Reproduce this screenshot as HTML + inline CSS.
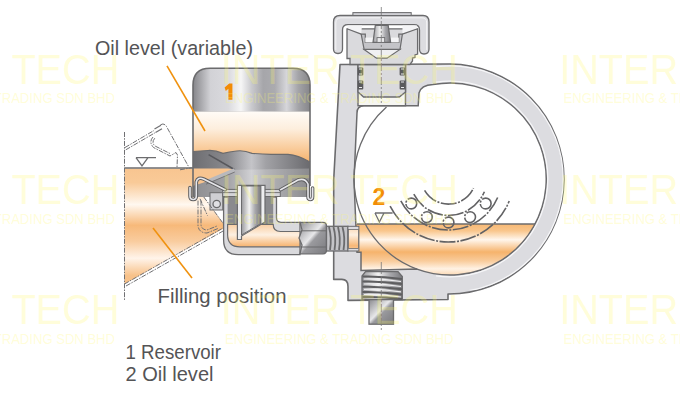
<!DOCTYPE html>
<html><head><meta charset="utf-8">
<style>
html,body{margin:0;padding:0;background:#fff;}
body{width:680px;height:400px;overflow:hidden;position:relative;}
svg{position:absolute;left:0;top:0;}
.lbl{font-family:"Liberation Sans",sans-serif;fill:#545456;font-size:19.3px;}
.num{font-family:"Liberation Sans",sans-serif;fill:#f28c06;font-size:22px;font-weight:bold;}
</style></head>
<body>
<svg width="680" height="400" viewBox="0 0 680 400">
<defs>
  <linearGradient id="oilL" x1="0" y1="168" x2="0" y2="290" gradientUnits="userSpaceOnUse">
    <stop offset="0" stop-color="#f8c590"/>
    <stop offset="0.12" stop-color="#f9ca98"/>
    <stop offset="0.3" stop-color="#fff8f0"/>
    <stop offset="0.47" stop-color="#f7b97a"/>
    <stop offset="0.6" stop-color="#f9cc9e"/>
    <stop offset="0.74" stop-color="#fff4ea"/>
    <stop offset="0.88" stop-color="#f8c28a"/>
    <stop offset="1" stop-color="#f7bd82"/>
  </linearGradient>
  <linearGradient id="oilR" x1="0" y1="224" x2="0" y2="280" gradientUnits="userSpaceOnUse">
    <stop offset="0" stop-color="#f7b874"/>
    <stop offset="0.12" stop-color="#f9c68c"/>
    <stop offset="0.28" stop-color="#fff6ec"/>
    <stop offset="0.5" stop-color="#f6b36c"/>
    <stop offset="0.66" stop-color="#f9cc9c"/>
    <stop offset="0.8" stop-color="#fff2e4"/>
    <stop offset="1" stop-color="#f8c690"/>
  </linearGradient>
  <linearGradient id="oilT" x1="0" y1="224" x2="0" y2="255" gradientUnits="userSpaceOnUse">
    <stop offset="0" stop-color="#f9cda0"/>
    <stop offset="0.35" stop-color="#fdf0e2"/>
    <stop offset="0.7" stop-color="#f7b878"/>
    <stop offset="1" stop-color="#fbd9b4"/>
  </linearGradient>
  <linearGradient id="resOil" x1="0" y1="112" x2="0" y2="160" gradientUnits="userSpaceOnUse">
    <stop offset="0" stop-color="#fffbf6"/>
    <stop offset="0.35" stop-color="#fdeedd"/>
    <stop offset="0.75" stop-color="#f9cc9c"/>
    <stop offset="1" stop-color="#f6b674"/>
  </linearGradient>
  <linearGradient id="metal" x1="193" y1="0" x2="310" y2="0" gradientUnits="userSpaceOnUse">
    <stop offset="0" stop-color="#86868a"/>
    <stop offset="0.06" stop-color="#a4a4a8"/>
    <stop offset="0.15" stop-color="#d2d2d6"/>
    <stop offset="0.3" stop-color="#dadade"/>
    <stop offset="0.41" stop-color="#f6f6f6"/>
    <stop offset="0.5" stop-color="#cacace"/>
    <stop offset="0.6" stop-color="#a6a6aa"/>
    <stop offset="0.7" stop-color="#ababaf"/>
    <stop offset="0.8" stop-color="#d6d6da"/>
    <stop offset="0.9" stop-color="#a4a4a8"/>
    <stop offset="1" stop-color="#86868a"/>
  </linearGradient>
  <linearGradient id="metalB" x1="193" y1="0" x2="310" y2="0" gradientUnits="userSpaceOnUse">
    <stop offset="0" stop-color="#6e6e72"/>
    <stop offset="0.3" stop-color="#8a8a8e"/>
    <stop offset="0.5" stop-color="#c4c4c8"/>
    <stop offset="0.62" stop-color="#a2a2a6"/>
    <stop offset="1" stop-color="#6a6a6e"/>
  </linearGradient>
  <linearGradient id="metal2" x1="0" y1="0" x2="1" y2="0">
    <stop offset="0" stop-color="#9a9a9e"/>
    <stop offset="0.4" stop-color="#f2f2f2"/>
    <stop offset="0.7" stop-color="#a8a8ac"/>
    <stop offset="1" stop-color="#7a7a7e"/>
  </linearGradient>
  <linearGradient id="metal3" x1="0" y1="0" x2="1" y2="1">
    <stop offset="0" stop-color="#8a8a8e"/>
    <stop offset="0.45" stop-color="#e8e8ea"/>
    <stop offset="0.55" stop-color="#9a9a9e"/>
    <stop offset="1" stop-color="#7a7a7e"/>
  </linearGradient>
  <clipPath id="ringclip"><rect x="436" y="60" width="140" height="230"/></clipPath>
  <clipPath id="below"><rect x="0" y="224" width="680" height="176"/></clipPath>
</defs>

<!-- ===== left filling position orange ===== -->
<path d="M124.5 168.4 L193 168.4 L193 197 L204 197 L223.6 224 L223.6 228.5 L124.5 284 Z" fill="url(#oilL)"/>
<line x1="124.5" y1="168" x2="193" y2="168" stroke="#6d6d6f" stroke-width="1.6"/>

<!-- ===== housing outer ===== -->
<path d="M340 64.5 L450 64 A115 115 0 0 1 448 294 L448 299.5 L348 300.4 L348 286.4 Q348 279.4 341.9 279.4 L333.7 279.4 L333.7 180 Z"
 fill="#dcdce0" stroke="#6b6b6d" stroke-width="1.6" stroke-linejoin="round"/>
<!-- interior -->
<path id="interior" d="M357 113 Q357 105.7 364 105.7 L418.2 105.7 L419 93 Q421 85.2 433 84.6 A96 96 0 1 1 417 269.1 L361 270.6 L361 252.3 L357 252.3 L354 180 Z" fill="#ffffff"/>
<g clip-path="url(#below)">
  <path d="M357 113 Q357 105.7 364 105.7 L418.2 105.7 L419 93 Q421 85.2 433 84.6 A96 96 0 1 1 417 269.1 L361 270.6 L361 252.3 L357 252.3 L354 180 Z" fill="url(#oilR)"/>
</g>
<path d="M357 113 Q357 105.7 364 105.7 L418.2 105.7 L419 93 Q421 85.2 433 84.6 A96 96 0 1 1 417 269.1 L361 270.6 L361 252.3 L357 252.3 L354 180 Z" fill="none" stroke="#6b6b6d" stroke-width="1.5"/>
<g clip-path="url(#ringclip)" fill="none" stroke="#f6f6f8" stroke-width="1.3">
  <circle cx="450" cy="179" r="113.2"/>
  <circle cx="450" cy="179" r="97.8"/>
</g>
<line x1="357" y1="224" x2="535" y2="224" stroke="#6b6b6d" stroke-width="1.5"/>
<path d="M386.5 107 A96 96 0 0 0 417 269.1" fill="none" stroke="#6b6b6d" stroke-width="1.3"/>

<!-- bearing arcs -->
<g fill="none" stroke="#626264" stroke-width="1.6" stroke-dasharray="16 1.5 2 1.5">
  <path d="M424.6 190.3 A27.6 27.6 0 0 0 473.5 188.2"/>
  <path d="M413.8 194.2 A39 39 0 0 0 484.4 191.7"/>
  <path d="M400.8 200.8 A53.5 53.5 0 0 0 497.7 197.4"/>
  <path d="M390.1 206.2 A65.5 65.5 0 0 0 509.2 201.0"/>
  <circle cx="411.3" cy="203.5" r="5.4"/>
  <circle cx="426.9" cy="217.1" r="5.4"/>
  <circle cx="448.5" cy="222.5" r="5.4"/>
  <circle cx="470.1" cy="217.1" r="5.4"/>
  <circle cx="485.7" cy="203.5" r="5.4"/>
</g>

<!-- ===== cap & plug ===== -->
<rect x="358" y="64.5" width="47.5" height="41.2" fill="#f6f6f2" stroke="#6b6b6d" stroke-width="1.4"/>
<path d="M358 64.5 L358 92 L363.6 97 L399.3 97 L405.5 92 L405.5 64.5 Z" fill="#dadadd" stroke="#6b6b6d" stroke-width="1.4"/>
<path d="M347 28.8 L347 58.5 L350 58.5 L350 64.5 L410 64.5 L412.5 61 L412.5 58 L415 57.5 L415 55 L417.6 54 L417.6 28.8 Z" fill="#dadadd" stroke="#6b6b6d" stroke-width="1.3"/>
<path d="M333.5 49 L333.5 22 Q333.5 15.5 340 15.5 L423 15.5 Q429 15.5 429 22 L429 49 Q429 54 424 54 Q419.5 54 419.5 49 L419.5 30 Q419.5 24.7 414 24.7 L348 24.7 Q342.5 24.7 342.5 30 L342.5 49 Q342.5 53.5 338 53.5 Q333.5 53.5 333.5 49 Z" fill="#dcdce0" stroke="#6b6b6d" stroke-width="1.3"/>
<path d="M335.8 50 L335.8 23 Q335.8 17.8 341 17.8 L422 17.8 Q426.7 17.8 426.7 23 L426.7 50" fill="none" stroke="#f4f4f6" stroke-width="1"/>
<rect x="352.9" y="12.6" width="58.3" height="2.9" fill="#d0d0d4" stroke="#6b6b6d" stroke-width="1"/>
<path d="M347.5 25.5 L362 25.5 L361.2 34.1 L347.5 28.8 Z M417 25.5 L402.5 25.5 L402.4 34.1 L417 28.8 Z" fill="#f4f4f6"/>
<path d="M347 28.8 L361.2 34.1 M417.6 28.8 L402.4 34.1" fill="none" stroke="#6b6b6d" stroke-width="1.2"/>
<path d="M364.1 49.4 L376.5 58.2 L387 58.2 L400 49.4 Z" fill="#f0f0f2" stroke="#6b6b6d" stroke-width="1.2"/>
<path d="M361.2 34.1 L364.1 49.4 L400 49.4 L402.4 34.1 L398.8 34.1 L398.8 42.4 L365.3 42.4 L365.3 34.1 Z" fill="#c4c4c8" stroke="#6b6b6d" stroke-width="1.2"/>
<rect x="365.3" y="37.6" width="7.7" height="4.8" fill="#f4f4f6"/><rect x="390.6" y="37.6" width="8.2" height="4.8" fill="#f4f4f6"/>
<path d="M375.3 25.3 L388.2 25.3 L390.6 42.4 L373 42.4 Z" fill="url(#metal2)" stroke="#6b6b6d" stroke-width="1.2"/>
<rect x="377" y="37.6" width="7.7" height="4.8" fill="#e8e8ea" stroke="#6b6b6d" stroke-width="0.9"/>
<g fill="#5a5a5c">
  <rect x="357.8" y="67.4" width="5.5" height="8.2" rx="1"/><rect x="357.8" y="80.4" width="5.5" height="9" rx="1"/>
  <rect x="399.6" y="67.4" width="5.9" height="8.2" rx="1"/><rect x="399.6" y="80.4" width="5.9" height="9" rx="1"/>
</g>
<g stroke="#e8e8ea" stroke-width="1">
  <line x1="359" y1="69" x2="362" y2="69"/><line x1="359" y1="74" x2="362" y2="74"/><line x1="359" y1="82" x2="362" y2="82"/><line x1="359" y1="87.5" x2="362" y2="87.5"/>
  <line x1="401" y1="69" x2="404" y2="69"/><line x1="401" y1="74" x2="404" y2="74"/><line x1="401" y1="82" x2="404" y2="82"/><line x1="401" y1="87.5" x2="404" y2="87.5"/>
</g>
<line x1="381.3" y1="7" x2="381.3" y2="105" stroke="#777" stroke-width="0.8" stroke-dasharray="8 2 2 2"/>

<!-- ===== drain plug ===== -->
<path d="M362 299.6 L362 276 L365.5 271.6 L398 271.6 L402.3 276.5 L402.3 299.6 Z" fill="url(#metal2)" stroke="#6b6b6d" stroke-width="1.3"/>
<g stroke="#5e5e60" stroke-width="2" fill="none">
  <path d="M362.5 276.5 Q382 276 402 279"/><path d="M362.5 281.5 Q382 281 402 284"/><path d="M362.5 286.8 Q382 286.3 402 289.3"/><path d="M362.5 292 Q382 291.5 402 294.5"/><path d="M362.5 297 Q382 296.5 402 299"/>
</g>
<g stroke="#eeeef0" stroke-width="1.2" fill="none">
  <path d="M364 279 Q382 278.5 401 281.5"/><path d="M364 284 Q382 283.5 401 286.5"/><path d="M364 289.3 Q382 288.8 401 291.8"/><path d="M364 294.5 Q382 294 401 297"/>
</g>
<rect x="369" y="299.6" width="24.5" height="24.6" fill="url(#metal3)" stroke="#6b6b6d" stroke-width="1.3"/>
<line x1="381.3" y1="262" x2="381.3" y2="332" stroke="#777" stroke-width="0.8" stroke-dasharray="8 2 2 2"/>

<!-- ===== reservoir ===== -->
<path d="M193 197 L193 85 Q193 68.2 210 68.2 L293 68.2 Q310 68.2 310 85 L310 197 Z" fill="url(#metalB)"/>
<path d="M193 111.5 L193 85 Q193 68.2 210 68.2 L293 68.2 Q310 68.2 310 85 L310 111.5 Z" fill="url(#metal)"/>
<path d="M193 111.5 L310 111.5 L310 162 Q298 155 288 154.3 L271 154.3 Q262 154 252 153.4 Q244 150 236.6 151 Q229 152 223 153.4 Q215 150 208 150.5 Q200 151 193 151.5 Z" fill="url(#resOil)"/>
<path d="M193 151.5 Q200 151 208 150.5 Q215 150 223 153.4 Q229 152 236.6 151 Q244 150 252 153.4 Q262 154 271 154.3 L288 154.3 Q298 155 310 162" fill="none" stroke="#6b6b6d" stroke-width="1.2"/>
<!-- orange in reservoir chevron -->
<path d="M193 168.4 L228 168.4 L234.8 169.8 L208.6 181 L193 186 Z" fill="#f7c490"/>
<path d="M234.8 169.8 L309 168.4 L309 197 L193.5 197 L193.5 186 L208.6 181 Z" fill="#ffffff" opacity="0.22"/>
<line x1="208.6" y1="154.6" x2="234.8" y2="169.8" stroke="#58585c" stroke-width="1.6"/>
<line x1="234.8" y1="169.8" x2="208.6" y2="181" stroke="#b8b8bc" stroke-width="3.6"/>
<line x1="234.8" y1="169.8" x2="206" y2="182" stroke="#6b6b6d" stroke-width="0.8" transform="translate(0 2.2)"/>
<path d="M193 197 L193 85 Q193 68.2 210 68.2 L293 68.2 Q310 68.2 310 85 L310 186" fill="none" stroke="#6b6b6d" stroke-width="1.6"/>

<!-- pipe -->
<path d="M223.6 197 V240 Q223.6 254.7 238.3 254.7 H300 V222.3 H281 Q276.5 222.3 276.5 217.8 V197 Z" fill="#d9d9dc" stroke="#6b6b6d" stroke-width="1.3"/>
<rect x="227.6" y="197" width="45.6" height="27.3" fill="#8a8a8e"/>
<path d="M227.6 224.3 H273.2 Q273.2 231.5 280.4 231.5 H300 V246.8 H240 Q227.6 246.8 227.6 234.4 Z" fill="url(#oilT)" stroke="#6b6b6d" stroke-width="1.2"/>
<!-- hinge block -->
<rect x="210" y="192.7" width="12.7" height="17.3" fill="#cfcfd3" stroke="#6b6b6d" stroke-width="1"/>
<circle cx="216.7" cy="204" r="3.7" fill="#e0e0e4" stroke="#6b6b6d" stroke-width="1.3"/>
<!-- bar -->
<rect x="222.7" y="189.4" width="57.6" height="7.1" fill="#d4d4d8" stroke="#6b6b6d" stroke-width="1"/>
<line x1="223" y1="192.6" x2="280" y2="192.6" stroke="#6b6b6d" stroke-width="0.9"/>
<path d="M237.4 185.3 L265 185.3 L265 222 L241.5 236 L241.5 239.5 L237.4 239.5 Z" fill="#eeeef0" stroke="#6b6b6d" stroke-width="1.2"/>
<path d="M241.5 186 L260.9 186 L260.9 223.5 L241.5 235 Z" fill="url(#metal2)" stroke="#6b6b6d" stroke-width="1"/>

<!-- clip wire -->
<path d="M225.1 189.7 L204 179.2 Q197.5 176.5 196.3 182 L196.3 196 Q196.3 199.5 193.2 199.5 Q190 199.5 190 196 L190 187.5 M280.6 189.7 L298 180 Q305 177.5 308 184 L308 196.5 Q308 199.5 310.3 199.5 Q312.6 199.5 312.6 196.5 L312.6 188" fill="none" stroke="#5e5e60" stroke-width="3.6" stroke-linecap="round" stroke-linejoin="round"/>
<path d="M225.1 189.7 L204 179.2 Q197.5 176.5 196.3 182 L196.3 196 Q196.3 199.5 193.2 199.5 Q190 199.5 190 196 L190 187.5 M280.6 189.7 L298 180 Q305 177.5 308 184 L308 196.5 Q308 199.5 310.3 199.5 Q312.6 199.5 312.6 196.5 L312.6 188" fill="none" stroke="#e6e6ea" stroke-width="1.6" stroke-linecap="round" stroke-linejoin="round"/>

<!-- connector nut & threads -->
<path d="M300 222.3 L323 222.3 Q326.5 222.3 326.5 226 L326.5 250 Q326.5 253.8 323 253.8 L300 253.8 L302 245 L299 238 L302 230 Z" fill="url(#metal3)" stroke="#6b6b6d" stroke-width="1.3"/>
<line x1="301" y1="230.8" x2="326" y2="230.8" stroke="#6b6b6d" stroke-width="1"/>
<line x1="301" y1="247" x2="326" y2="247" stroke="#6b6b6d" stroke-width="1"/>
<rect x="326.5" y="226.3" width="21.4" height="24.7" fill="#c4c4c8" stroke="#6b6b6d" stroke-width="1.3"/>
<g stroke="#6b6b6d" stroke-width="1.8" fill="none">
  <path d="M329 227 Q332 238 330 250"/><path d="M333.5 227 Q336.5 238 334.5 250"/><path d="M338 227 Q341 238 339 250"/><path d="M342.5 227 Q345.5 238 343.5 250"/>
</g>
<rect x="347.9" y="226.3" width="11" height="24.7" fill="#dcdce0" stroke="#6b6b6d" stroke-width="1"/>
<rect x="348.5" y="229.5" width="10" height="19" fill="url(#oilT)" stroke="#6b6b6d" stroke-width="0.8"/>

<!-- ===== phantom lines left ===== -->
<g fill="none" stroke="#707073" stroke-width="1" stroke-dasharray="5 1.2 1.5 1.2">
  <line x1="124.5" y1="132" x2="124.5" y2="300"/>
  <path d="M125 147.5 L154 130.5"/>
  <path d="M125.8 149.8 L155 132.8"/>
  <path d="M160.5 124.8 Q164 122.5 166.5 126.5 L188.5 166.5"/>
  <path d="M153 137 Q148.5 142 153.5 147.5 L170 156 L176 152.5 L177.5 155 L177 167"/>
  <path d="M154.8 138.2 Q151 142.5 155 146 L171 154"/>
  <line x1="124.5" y1="284" x2="223" y2="228"/>
  <line x1="126" y1="286" x2="224" y2="230.5"/>
  <path d="M198 200.6 L198 226 Q199 233 207 233 L218 228.5"/>
  <path d="M201 200.6 L201 225 Q202 230 207 230 L217 226"/>
  <line x1="200" y1="198.8" x2="207.5" y2="215.6"/>
  <line x1="203.8" y1="197" x2="223.6" y2="224"/>
  <line x1="180" y1="169.8" x2="191.7" y2="167.7"/>
</g>
<g stroke="#707073" stroke-width="1.2">
  <line x1="154.5" y1="129" x2="161" y2="125.2"/><line x1="155.5" y1="132.5" x2="162" y2="128.7"/>
</g>
<!-- triangles -->
<path d="M136 157.7 L156 157.7 M136 157.7 L142 166 L148 157.7" fill="none" stroke="#6d6d6f" stroke-width="1.3"/>
<path d="M375 213 L392.6 213 M375 213 L379.4 222 L384 213" fill="none" stroke="#6d6d6f" stroke-width="1.3"/>

<!-- leader lines -->
<line x1="167" y1="65.8" x2="205" y2="131" stroke="#f0920f" stroke-width="1.6"/>
<line x1="153" y1="228" x2="192" y2="278" stroke="#f0920f" stroke-width="1.6"/>

<!-- numbers -->
<path d="M224.6 87.6 L229.2 83.6 L232.4 83.6 L232.4 99.8 L228.4 99.8 L228.4 88.8 L225.8 90.9 Z" fill="#f28c06"/>
<text class="num" x="372.6" y="205" style="font-size:23px">2</text>

<!-- labels -->
<text class="lbl" x="95" y="55" textLength="158" lengthAdjust="spacingAndGlyphs">Oil level (variable)</text>
<text class="lbl" x="157.5" y="302.6" textLength="129" lengthAdjust="spacingAndGlyphs">Filling position</text>
<text class="lbl" x="125.5" y="359" textLength="95.5" lengthAdjust="spacingAndGlyphs">1 Reservoir</text>
<text class="lbl" x="125.5" y="381" textLength="88" lengthAdjust="spacingAndGlyphs">2 Oil level</text>

<!-- watermark -->
<g font-family="Liberation Sans, sans-serif" fill="#fffa6e" fill-opacity="0.27">
  <text x="-117.5" y="84.3" font-size="42" textLength="237" lengthAdjust="spacingAndGlyphs">INTER TECH</text>
  <text x="-113.5" y="102.8" font-size="14.5" textLength="228.5" lengthAdjust="spacingAndGlyphs">ENGINEERING &amp; TRADING SDN BHD</text>
  <text x="221.0" y="84.3" font-size="42" textLength="237" lengthAdjust="spacingAndGlyphs">INTER TECH</text>
  <text x="225.0" y="102.8" font-size="14.5" textLength="228.5" lengthAdjust="spacingAndGlyphs">ENGINEERING &amp; TRADING SDN BHD</text>
  <text x="559.5" y="84.3" font-size="42" textLength="237" lengthAdjust="spacingAndGlyphs">INTER TECH</text>
  <text x="563.5" y="102.8" font-size="14.5" textLength="228.5" lengthAdjust="spacingAndGlyphs">ENGINEERING &amp; TRADING SDN BHD</text>
  <text x="-117.5" y="204.1" font-size="42" textLength="237" lengthAdjust="spacingAndGlyphs">INTER TECH</text>
  <text x="-113.5" y="223.6" font-size="14.5" textLength="228.5" lengthAdjust="spacingAndGlyphs">ENGINEERING &amp; TRADING SDN BHD</text>
  <text x="221.0" y="204.1" font-size="42" textLength="237" lengthAdjust="spacingAndGlyphs">INTER TECH</text>
  <text x="225.0" y="223.6" font-size="14.5" textLength="228.5" lengthAdjust="spacingAndGlyphs">ENGINEERING &amp; TRADING SDN BHD</text>
  <text x="559.5" y="204.1" font-size="42" textLength="237" lengthAdjust="spacingAndGlyphs">INTER TECH</text>
  <text x="563.5" y="223.6" font-size="14.5" textLength="228.5" lengthAdjust="spacingAndGlyphs">ENGINEERING &amp; TRADING SDN BHD</text>
  <text x="-117.5" y="323.9" font-size="42" textLength="237" lengthAdjust="spacingAndGlyphs">INTER TECH</text>
  <text x="-113.5" y="344.4" font-size="14.5" textLength="228.5" lengthAdjust="spacingAndGlyphs">ENGINEERING &amp; TRADING SDN BHD</text>
  <text x="221.0" y="323.9" font-size="42" textLength="237" lengthAdjust="spacingAndGlyphs">INTER TECH</text>
  <text x="225.0" y="344.4" font-size="14.5" textLength="228.5" lengthAdjust="spacingAndGlyphs">ENGINEERING &amp; TRADING SDN BHD</text>
  <text x="559.5" y="323.9" font-size="42" textLength="237" lengthAdjust="spacingAndGlyphs">INTER TECH</text>
  <text x="563.5" y="344.4" font-size="14.5" textLength="228.5" lengthAdjust="spacingAndGlyphs">ENGINEERING &amp; TRADING SDN BHD</text>
</g>
</svg>
</body></html>
